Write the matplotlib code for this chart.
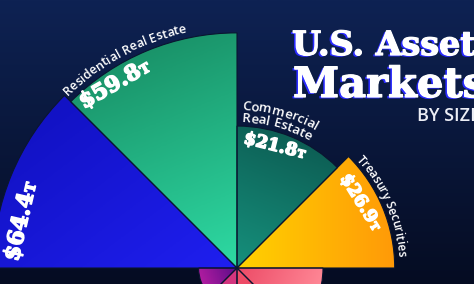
import numpy as np
import matplotlib
matplotlib.use("Agg")
import matplotlib.pyplot as plt
import matplotlib.patheffects as pe
from matplotlib.patches import Wedge
from matplotlib.colors import LinearSegmentedColormap
from matplotlib.font_manager import FontProperties

# asset market sizes in trillions of USD, clockwise from the left horizon
values = [64.4, 59.8, 21.8, 26.9, 8.0, 5.0, 5.0, 1.6]
value_labels = ["$64.4", "$59.8", "$21.8", "$26.9", "", "", "", ""]
arc_labels = ["", "Residential Real Estate", "Commercial\nReal Estate",
              "Treasury Securities", "", "", "", ""]

# colours of each wedge (gradient start, gradient end)
wedge_colors = [("#1212c4", "#1f1ff0"), ("#1a946a", "#2edaa3"),
                ("#0d5f55", "#16907c"), ("#ffd200", "#ff9a08"),
                ("#ff8896", "#ec4a66"), ("#e83c5c", "#f0506a"),
                ("#c22a78", "#d83880"), ("#b01ca0", "#5a0c88")]

title_lines = ["U.S. Asset", "Markets", "BY SIZE"]

W, H = 474, 284
fig = plt.figure(figsize=(W / 100, H / 100), dpi=100)
ax = fig.add_axes([0, 0, 1, 1])
ax.axis("off")

# background
bg = np.linspace(1, 0, 200).reshape(-1, 1)
bg_cmap = LinearSegmentedColormap.from_list("bg", ["#050c22", "#0e2253"])
ax.imshow(bg, extent=[0, W, 0, H], aspect="auto", cmap=bg_cmap, origin="upper", zorder=0)

cx, cy = 237, 16
k = 244 / np.sqrt(max(values))  # radius grows with sqrt(value), area ~ value
step = 180 / 4

for i, v in enumerate(values):
    t2 = 180 - step * i
    t1 = t2 - step
    r = k * np.sqrt(v)
    w = Wedge((cx, cy), r, t1, t2, facecolor="none", edgecolor="#0a1530", lw=0.8, zorder=3)
    ax.add_patch(w)
    # gradient direction: from outer edge toward the centre (tangential for some)
    mid = np.deg2rad((t1 + t2) / 2)
    if i == 3:
        d = np.array([1.0, 0.0])
    elif i == 0:
        d = np.array([0.6, -0.8])
    else:
        d = -np.array([np.cos(mid), np.sin(mid)])
    pts = [(cx, cy)] + [(cx + r * np.cos(np.deg2rad(a)), cy + r * np.sin(np.deg2rad(a)))
                        for a in np.linspace(t1, t2, 7)]
    proj = [p[0] * d[0] + p[1] * d[1] for p in pts]
    X, Y = np.meshgrid(np.linspace(0, W, 240), np.linspace(0, H, 150))
    g = (X * d[0] + Y * d[1] - min(proj)) / (max(proj) - min(proj))
    cm = LinearSegmentedColormap.from_list("w%d" % i, list(wedge_colors[i]))
    im = ax.imshow(np.clip(g, 0, 1), extent=[0, W, 0, H], origin="lower", aspect="auto",
                   cmap=cm, vmin=0, vmax=1, zorder=2)
    im.set_clip_path(w)

ax.set_xlim(0, W)
ax.set_ylim(0, H)

renderer = fig.canvas.get_renderer()


def esc(s):
    return s.replace("$", "\\$")


def _w(s, prop):
    t = ax.text(0, 0, esc(s), fontproperties=prop)
    bb = t.get_window_extent(renderer)
    t.remove()
    return bb.width


def text_width(s, prop):
    return _w("|" + s + "|", prop) - _w("||", prop)


def arc_text(s, r, start_deg, prop, color="white"):
    for i, ch in enumerate(s):
        mid = text_width(s[:i], prop) + text_width(ch, prop) / 2
        th = np.deg2rad(start_deg) - mid / r
        ax.text(cx + r * np.cos(th), cy + r * np.sin(th), esc(ch),
                rotation=np.rad2deg(th) - 90, rotation_mode="anchor",
                ha="center", va="baseline", fontproperties=prop, color=color, zorder=5)


heavy = [pe.Stroke(linewidth=1.1, foreground="white"), pe.Normal()]


def value_text(x, y, rot, num, size):
    big = FontProperties(family="DejaVu Serif", weight="bold", size=size)
    small = FontProperties(family="DejaVu Serif", weight="bold", size=size * 0.6)
    ax.text(x, y, esc(num), rotation=rot, rotation_mode="anchor", ha="left",
            va="baseline", fontproperties=big, color="white", zorder=5, path_effects=heavy)
    w = text_width(num, big) + 1
    a = np.deg2rad(rot)
    ax.text(x + w * np.cos(a), y + w * np.sin(a), "T", rotation=rot,
            rotation_mode="anchor", ha="left", va="baseline", fontproperties=small,
            color="white", zorder=5, path_effects=heavy)


# value labels inside wedges
value_text(18, 22, 77, value_labels[0], 16)
value_text(84, 175, 30, value_labels[1], 15.5)
value_text(243, 141, -14, value_labels[2], 12.5)
value_text(340, 106, -58, value_labels[3], 12.5)

# curved category labels
lab = FontProperties(family="Open Sans", weight="semibold", size=9)
arc_text(arc_labels[1], 241, 134.5, lab)
l1, l2 = arc_labels[2].split("\n")
arc_text(l1, 158, 88.2, FontProperties(family="Open Sans", weight="semibold", size=9.5))
arc_text(l2, 146, 88.2, FontProperties(family="Open Sans", weight="semibold", size=9.5))
arc_text(arc_labels[3], 161, 42.3, FontProperties(family="Open Sans", weight="semibold", size=8.5))

# title
title_fx = [pe.withSimplePatchShadow(offset=(-1.6, -1.0), shadow_rgbFace="#2a2aff", alpha=1),
            pe.Stroke(linewidth=0.9, foreground="white"), pe.Normal()]
ax.text(292, H - 55, title_lines[0], fontsize=24, family="DejaVu Serif", weight="bold",
        color="white", path_effects=title_fx, zorder=6)
ax.text(293, H - 97, title_lines[1], fontsize=30, family="DejaVu Serif", weight="bold",
        color="white", path_effects=title_fx, zorder=6)
ax.text(417, H - 121, title_lines[2], fontsize=13, family="Open Sans", weight="semibold",
        color="#eceef5", zorder=6)

fig.savefig("out.png", dpi=100)
